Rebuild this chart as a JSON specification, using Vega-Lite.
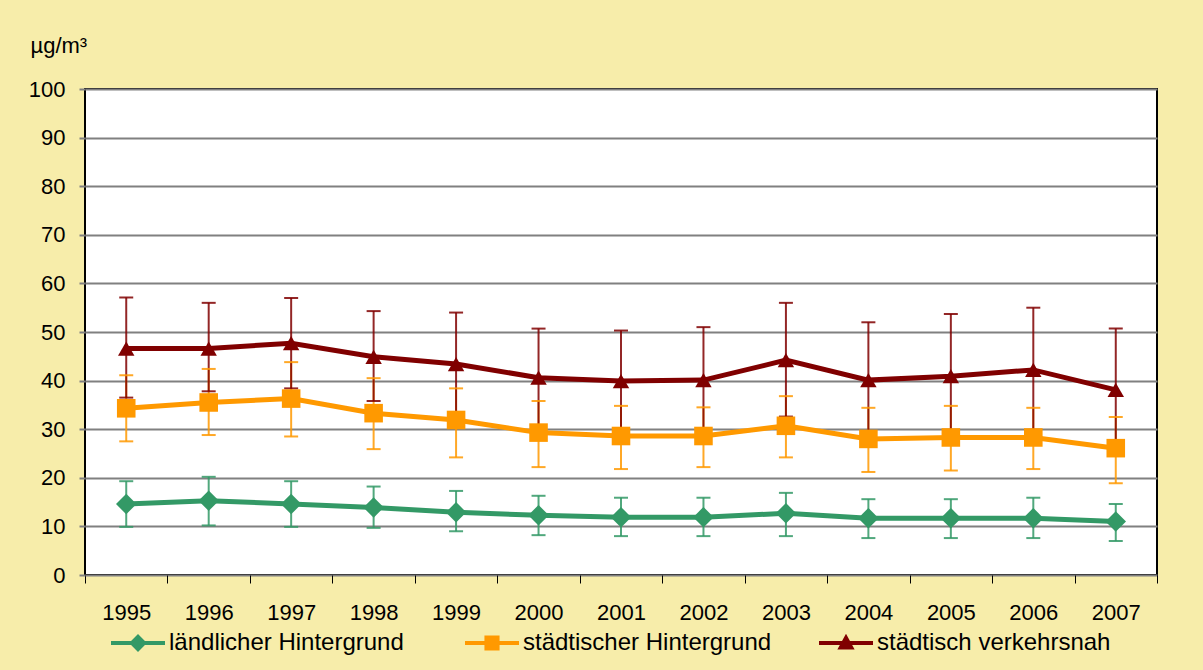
{
  "$schema": "https://vega.github.io/schema/vega-lite/v6.json",
  "width": 1072,
  "height": 486,
  "autosize": "none",
  "padding": {"left": 85, "top": 89, "right": 46, "bottom": 95},
  "background": "#F7EDAA",
  "config": {
    "font": "Liberation Sans",
    "view": {"stroke": "#000000", "strokeWidth": 2, "fill": "#FFFFFF"}
  },
  "data": {"values": [
    {"year": "1995", "series": "ländlicher Hintergrund", "value": 14.6, "lo": 9.9, "hi": 19.3},
    {"year": "1996", "series": "ländlicher Hintergrund", "value": 15.3, "lo": 10.2, "hi": 20.2},
    {"year": "1997", "series": "ländlicher Hintergrund", "value": 14.6, "lo": 9.9, "hi": 19.3},
    {"year": "1998", "series": "ländlicher Hintergrund", "value": 13.9, "lo": 9.7, "hi": 18.2},
    {"year": "1999", "series": "ländlicher Hintergrund", "value": 12.9, "lo": 9.0, "hi": 17.3},
    {"year": "2000", "series": "ländlicher Hintergrund", "value": 12.3, "lo": 8.2, "hi": 16.3},
    {"year": "2001", "series": "ländlicher Hintergrund", "value": 11.9, "lo": 8.0, "hi": 15.9},
    {"year": "2002", "series": "ländlicher Hintergrund", "value": 11.9, "lo": 8.0, "hi": 15.9},
    {"year": "2003", "series": "ländlicher Hintergrund", "value": 12.7, "lo": 8.0, "hi": 16.9},
    {"year": "2004", "series": "ländlicher Hintergrund", "value": 11.7, "lo": 7.6, "hi": 15.6},
    {"year": "2005", "series": "ländlicher Hintergrund", "value": 11.7, "lo": 7.6, "hi": 15.6},
    {"year": "2006", "series": "ländlicher Hintergrund", "value": 11.7, "lo": 7.6, "hi": 15.9},
    {"year": "2007", "series": "ländlicher Hintergrund", "value": 11.0, "lo": 7.0, "hi": 14.6},
    {"year": "1995", "series": "städtischer Hintergrund", "value": 34.3, "lo": 27.5, "hi": 41.1},
    {"year": "1996", "series": "städtischer Hintergrund", "value": 35.5, "lo": 28.8, "hi": 42.4},
    {"year": "1997", "series": "städtischer Hintergrund", "value": 36.3, "lo": 28.5, "hi": 43.8},
    {"year": "1998", "series": "städtischer Hintergrund", "value": 33.3, "lo": 25.9, "hi": 40.5},
    {"year": "1999", "series": "städtischer Hintergrund", "value": 31.9, "lo": 24.2, "hi": 38.4},
    {"year": "2000", "series": "städtischer Hintergrund", "value": 29.3, "lo": 22.2, "hi": 35.8},
    {"year": "2001", "series": "städtischer Hintergrund", "value": 28.6, "lo": 21.8, "hi": 34.8},
    {"year": "2002", "series": "städtischer Hintergrund", "value": 28.6, "lo": 22.2, "hi": 34.5},
    {"year": "2003", "series": "städtischer Hintergrund", "value": 30.7, "lo": 24.2, "hi": 36.8},
    {"year": "2004", "series": "städtischer Hintergrund", "value": 28.0, "lo": 21.2, "hi": 34.4},
    {"year": "2005", "series": "städtischer Hintergrund", "value": 28.3, "lo": 21.5, "hi": 34.8},
    {"year": "2006", "series": "städtischer Hintergrund", "value": 28.3, "lo": 21.8, "hi": 34.4},
    {"year": "2007", "series": "städtischer Hintergrund", "value": 26.1, "lo": 18.9, "hi": 32.5},
    {"year": "1995", "series": "städtisch verkehrsnah", "value": 46.6, "lo": 36.5, "hi": 57.1},
    {"year": "1996", "series": "städtisch verkehrsnah", "value": 46.6, "lo": 37.8, "hi": 56.0},
    {"year": "1997", "series": "städtisch verkehrsnah", "value": 47.7, "lo": 38.4, "hi": 57.0},
    {"year": "1998", "series": "städtisch verkehrsnah", "value": 44.9, "lo": 35.8, "hi": 54.3},
    {"year": "1999", "series": "städtisch verkehrsnah", "value": 43.4, "lo": 32.8, "hi": 54.0},
    {"year": "2000", "series": "städtisch verkehrsnah", "value": 40.6, "lo": 30.5, "hi": 50.7},
    {"year": "2001", "series": "städtisch verkehrsnah", "value": 39.9, "lo": 29.5, "hi": 50.3},
    {"year": "2002", "series": "städtisch verkehrsnah", "value": 40.1, "lo": 29.2, "hi": 51.0},
    {"year": "2003", "series": "städtisch verkehrsnah", "value": 44.2, "lo": 32.6, "hi": 56.0},
    {"year": "2004", "series": "städtisch verkehrsnah", "value": 40.1, "lo": 28.2, "hi": 52.0},
    {"year": "2005", "series": "städtisch verkehrsnah", "value": 40.9, "lo": 28.1, "hi": 53.7},
    {"year": "2006", "series": "städtisch verkehrsnah", "value": 42.2, "lo": 29.4, "hi": 55.0},
    {"year": "2007", "series": "städtisch verkehrsnah", "value": 38.1, "lo": 25.5, "hi": 50.7}
  ]},
  "encoding": {
    "x": {
      "field": "year", "type": "ordinal",
      "scale": {"type": "band", "paddingInner": 0, "paddingOuter": 0},
      "axis": {
        "title": null, "labelAngle": 0, "domain": false, "grid": false,
        "tickBand": "extent", "tickSize": 8, "tickColor": "#000000", "tickWidth": 1,
        "labelFontSize": 22, "labelColor": "#000000", "labelPadding": 19
      }
    },
    "color": {
      "field": "series", "type": "nominal",
      "scale": {
        "domain": ["ländlicher Hintergrund", "städtischer Hintergrund", "städtisch verkehrsnah"],
        "range": ["#339966", "#FF9900", "#800000"]
      },
      "legend": null
    }
  },
  "layer": [
    {
      "mark": {"type": "rule", "strokeWidth": 2, "opacity": 0.85},
      "encoding": {
        "y": {"field": "lo", "type": "quantitative"},
        "y2": {"field": "hi"}
      }
    },
    {
      "mark": {"type": "tick", "size": 14, "thickness": 2, "orient": "horizontal", "opacity": 0.85},
      "encoding": {"y": {"field": "lo", "type": "quantitative"}}
    },
    {
      "mark": {"type": "tick", "size": 14, "thickness": 2, "orient": "horizontal", "opacity": 0.85},
      "encoding": {"y": {"field": "hi", "type": "quantitative"}}
    },
    {
      "mark": {"type": "line", "strokeWidth": 5},
      "encoding": {
        "y": {
          "field": "value", "type": "quantitative",
          "scale": {"domain": [0, 100], "nice": false},
          "axis": {
            "values": [0, 10, 20, 30, 40, 50, 60, 70, 80, 90, 100],
            "grid": true, "gridColor": "#808080", "gridWidth": 2,
            "domain": false, "tickColor": "#808080", "tickSize": 6, "tickWidth": 2,
            "labelFontSize": 22, "labelColor": "#000000", "labelPadding": 14,
            "title": "µg/m³", "titleAngle": 0, "titleAlign": "left", "titleBaseline": "alphabetic",
            "titleX": -55, "titleY": -37, "titleFontSize": 22, "titleFontWeight": "normal", "titleColor": "#000000"
          }
        }
      }
    },
    {
      "mark": {"type": "point", "filled": true, "opacity": 1},
      "encoding": {
        "y": {"field": "value", "type": "quantitative"},
        "shape": {
          "field": "series", "type": "nominal",
          "scale": {
            "domain": ["ländlicher Hintergrund", "städtischer Hintergrund", "städtisch verkehrsnah"],
            "range": ["diamond", "square", "triangle-up"]
          },
          "legend": null
        },
        "size": {
          "field": "series", "type": "nominal",
          "scale": {
            "domain": ["ländlicher Hintergrund", "städtischer Hintergrund", "städtisch verkehrsnah"],
            "range": [420, 270, 420]
          },
          "legend": null
        }
      }
    },
    {
      "transform": [{"filter": "false"}],
      "mark": {"type": "point", "filled": true, "opacity": 1},
      "encoding": {
        "y": {"field": "value", "type": "quantitative"},
        "color": {
          "field": "series", "type": "nominal",
          "scale": {
            "domain": ["ländlicher Hintergrund", "städtischer Hintergrund", "städtisch verkehrsnah"],
            "range": ["#339966", "#FF9900", "#800000"]
          },
          "legend": {
            "title": null, "orient": "none", "legendX": 26, "legendY": 527,
            "direction": "horizontal", "columns": 3, "gridAlign": "all", "columnPadding": 47,
            "symbolSize": 2916, "symbolStrokeWidth": 0, "symbolOffset": 0,
            "labelFontSize": 24, "labelColor": "#000000", "labelOffset": 4, "labelLimit": 400
          }
        },
        "shape": {
          "field": "series", "type": "nominal",
          "scale": {
            "domain": ["ländlicher Hintergrund", "städtischer Hintergrund", "städtisch verkehrsnah"],
            "range": [
              "M-1,-0.075H1V0.075H-1Z M0,-0.33L0.33,0L0,0.33L-0.33,0Z",
              "M-1,-0.075H1V0.075H-1Z M-0.28,-0.28H0.28V0.28H-0.28Z",
              "M-1,-0.075H1V0.075H-1Z M0,-0.34L0.32,0.24H-0.32Z"
            ]
          },
          "legend": {
            "title": null, "orient": "none", "legendX": 26, "legendY": 527,
            "direction": "horizontal", "columns": 3, "gridAlign": "all", "columnPadding": 47,
            "symbolSize": 2916, "symbolStrokeWidth": 0, "symbolOffset": 0,
            "labelFontSize": 24, "labelColor": "#000000", "labelOffset": 4, "labelLimit": 400
          }
        }
      }
    }
  ],
  "resolve": {
    "scale": {"shape": "independent", "size": "independent"},
    "legend": {"shape": "independent", "color": "independent"}
  }
}
